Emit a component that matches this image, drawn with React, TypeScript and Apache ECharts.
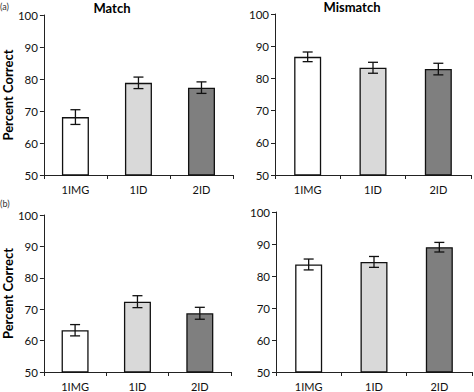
import React, { useEffect, useRef } from "react";
import * as echarts from "echarts";

const categories = ["1IMG", "1ID", "2ID"];
const yTicks = [50, 60, 70, 80, 90, 100];
const matchA = [68.1, 78.8, 77.3];
const matchAErr = [2.3, 1.8, 1.8];
const mismatchA = [86.7, 83.3, 82.9];
const mismatchAErr = [1.5, 1.7, 1.8];
const matchB = [63.3, 72.4, 68.7];
const matchBErr = [1.8, 1.9, 1.9];
const mismatchB = [83.6, 84.4, 89.0];
const mismatchBErr = [1.7, 1.7, 1.5];
const barColors = ["#ffffff", "#d9d9d9", "#7f7f7f"];
const titles = ["Match", "Mismatch"];
const panelLabels = ["(a)", "(b)"];
const yName = "Percent Correct";

const FONT = "Lato, 'Open Sans', sans-serif";

export default function App() {
  const ref = useRef<HTMLDivElement>(null);
  useEffect(() => {
    if (!ref.current) return;
    const chart = echarts.init(ref.current, undefined, { renderer: "svg" });
    const panels = [
      { vals: matchA, err: matchAErr, grid: { left: 41, top: 15, width: 192, height: 160 }, showName: true },
      { vals: mismatchA, err: mismatchAErr, grid: { left: 275, top: 14, width: 196, height: 161 }, showName: false },
      { vals: matchB, err: matchBErr, grid: { left: 39, top: 215, width: 192, height: 159 }, showName: true },
      { vals: mismatchB, err: mismatchBErr, grid: { left: 276, top: 212, width: 196, height: 162 }, showName: false },
    ];
    const grids = panels.map((p) => ({ ...p.grid, containLabel: false }));
    const xAxes = panels.map((_, i) => ({
      type: "category",
      gridIndex: i,
      data: categories,
      axisLine: { lineStyle: { color: "#222", width: 1 } },
      axisTick: { show: true, length: 4, lineStyle: { color: "#222" } },
      axisLabel: { color: "#111", fontSize: 11, fontFamily: FONT, margin: 9 },
    }));
    const yAxes = panels.map((p, i) => ({
      type: "value",
      gridIndex: i,
      min: yTicks[0],
      max: yTicks[yTicks.length - 1],
      interval: 10,
      splitLine: { show: false },
      axisLine: { show: true, lineStyle: { color: "#222", width: 1 } },
      axisTick: { show: true, length: 4, lineStyle: { color: "#222" } },
      axisLabel: { color: "#111", fontSize: 11.5, fontFamily: FONT, margin: 6 },
      name: p.showName ? yName : "",
      nameLocation: "middle",
      nameGap: 24,
      nameTextStyle: { fontSize: 13, fontWeight: "bold", color: "#000", fontFamily: FONT },
    }));
    const series: any[] = [];
    panels.forEach((p, i) => {
      series.push({
        type: "bar",
        xAxisIndex: i,
        yAxisIndex: i,
        barWidth: 27,
        data: p.vals.map((v, j) => ({
          value: v,
          itemStyle: { color: barColors[j], borderColor: "#111", borderWidth: 1.3 },
        })),
      });
      series.push({
        type: "custom",
        xAxisIndex: i,
        yAxisIndex: i,
        data: p.vals.map((v, j) => [j, v - p.err[j], v + p.err[j]]),
        renderItem: (params: any, api: any) => {
          const x = api.value(0);
          const lo = api.coord([x, api.value(1)]);
          const hi = api.coord([x, api.value(2)]);
          const hw = 5;
          const style = { stroke: "#111", lineWidth: 1.3 };
          return {
            type: "group",
            children: [
              { type: "line", shape: { x1: lo[0], y1: lo[1], x2: hi[0], y2: hi[1] }, style },
              { type: "line", shape: { x1: lo[0] - hw, y1: lo[1], x2: lo[0] + hw, y2: lo[1] }, style },
              { type: "line", shape: { x1: hi[0] - hw, y1: hi[1], x2: hi[0] + hw, y2: hi[1] }, style },
            ],
          };
        },
        z: 5,
      });
    });
    chart.setOption({
      animation: false,
      backgroundColor: "#ffffff",
      grid: grids,
      xAxis: xAxes,
      yAxis: yAxes,
      series,
      graphic: [
        { type: "text", x: 112, y: 8, style: { text: titles[0], fontSize: 13, fontWeight: "bold", fontFamily: FONT, fill: "#000", textAlign: "center", textVerticalAlign: "middle" } },
        { type: "text", x: 352, y: 7, style: { text: titles[1], fontSize: 13, fontWeight: "bold", fontFamily: FONT, fill: "#000", textAlign: "center", textVerticalAlign: "middle" } },
        { type: "text", x: 0, y: 6, style: { text: panelLabels[0], fontSize: 9, fontFamily: FONT, fill: "#333", textVerticalAlign: "middle" } },
        { type: "text", x: 0, y: 203, style: { text: panelLabels[1], fontSize: 9, fontFamily: FONT, fill: "#333", textVerticalAlign: "middle" } },
      ],
    });
    return () => chart.dispose();
  }, []);
  return <div ref={ref} style={{ width: 474, height: 392, position: "absolute", left: 0, top: 0 }} />;
}
